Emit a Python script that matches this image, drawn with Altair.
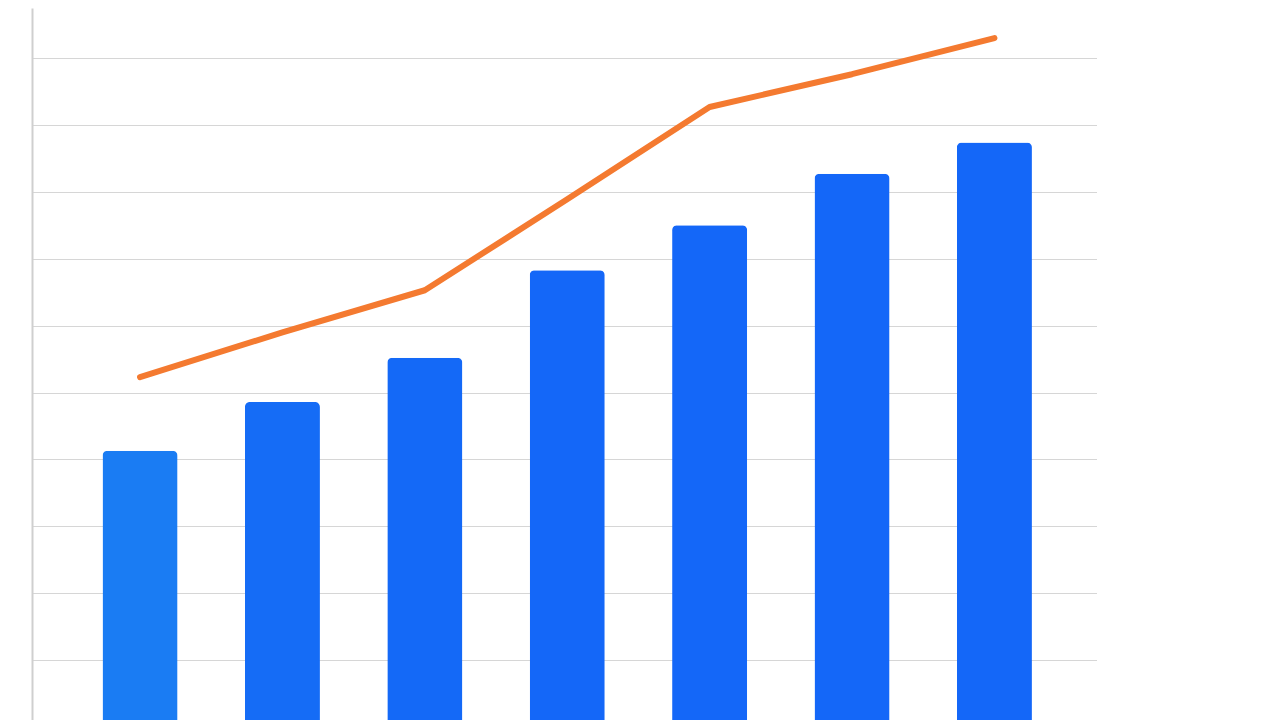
import altair as alt
import pandas as pd

categories = ["1", "2", "3", "4", "5", "6", "7"]
bar_values = [41.3, 48.6, 55.2, 68.3, 75.0, 82.7, 87.4]
line_values = [52.3, 59.0, 65.3, 78.9, 92.7, 97.6, 103.0]
grid_values = [10, 20, 30, 40, 50, 60, 70, 80, 90, 100]
bar_colors = ["#1a7cf3", "#156cf6", "#1469f7", "#1467f8", "#1467f8", "#1467f8", "#1467f8"]

df = pd.DataFrame({"cat": categories, "bar": bar_values, "line": line_values})

x_scale = alt.Scale(domain=categories, paddingInner=0.473, paddingOuter=0.476, align=0.52)
y_scale = alt.Scale(domain=[0, 107.5], nice=False, zero=False)

y_axis = alt.Axis(
    title=None, labels=False, ticks=False, domain=True,
    domainColor="#cfcfcf", domainWidth=2,
    grid=True, gridColor="#d6d6d6", gridWidth=1.2,
    values=grid_values,
)

base = alt.Chart(df)

bars = base.mark_bar(cornerRadiusTopLeft=5, cornerRadiusTopRight=5).encode(
    x=alt.X("cat:N", scale=x_scale, axis=None, sort=categories),
    y=alt.Y("bar:Q", scale=y_scale, axis=y_axis),
    color=alt.Color("cat:N", scale=alt.Scale(domain=categories, range=bar_colors), legend=None),
)

line = base.mark_line(color="#f47a30", strokeWidth=6, strokeCap="round", strokeJoin="round").encode(
    x=alt.X("cat:N", scale=x_scale, axis=None, sort=categories, bandPosition=0.5),
    y=alt.Y("line:Q", scale=y_scale, axis=y_axis),
)

chart = (
    alt.layer(bars, line)
    .properties(
        width=1065, height=719,
        padding={"left": 24, "top": 0, "right": 0, "bottom": 0},
        background="white",
    )
    .configure_view(stroke="transparent", strokeWidth=0)
)

chart.save("out.html", embed_options={"renderer": "svg", "actions": False})
